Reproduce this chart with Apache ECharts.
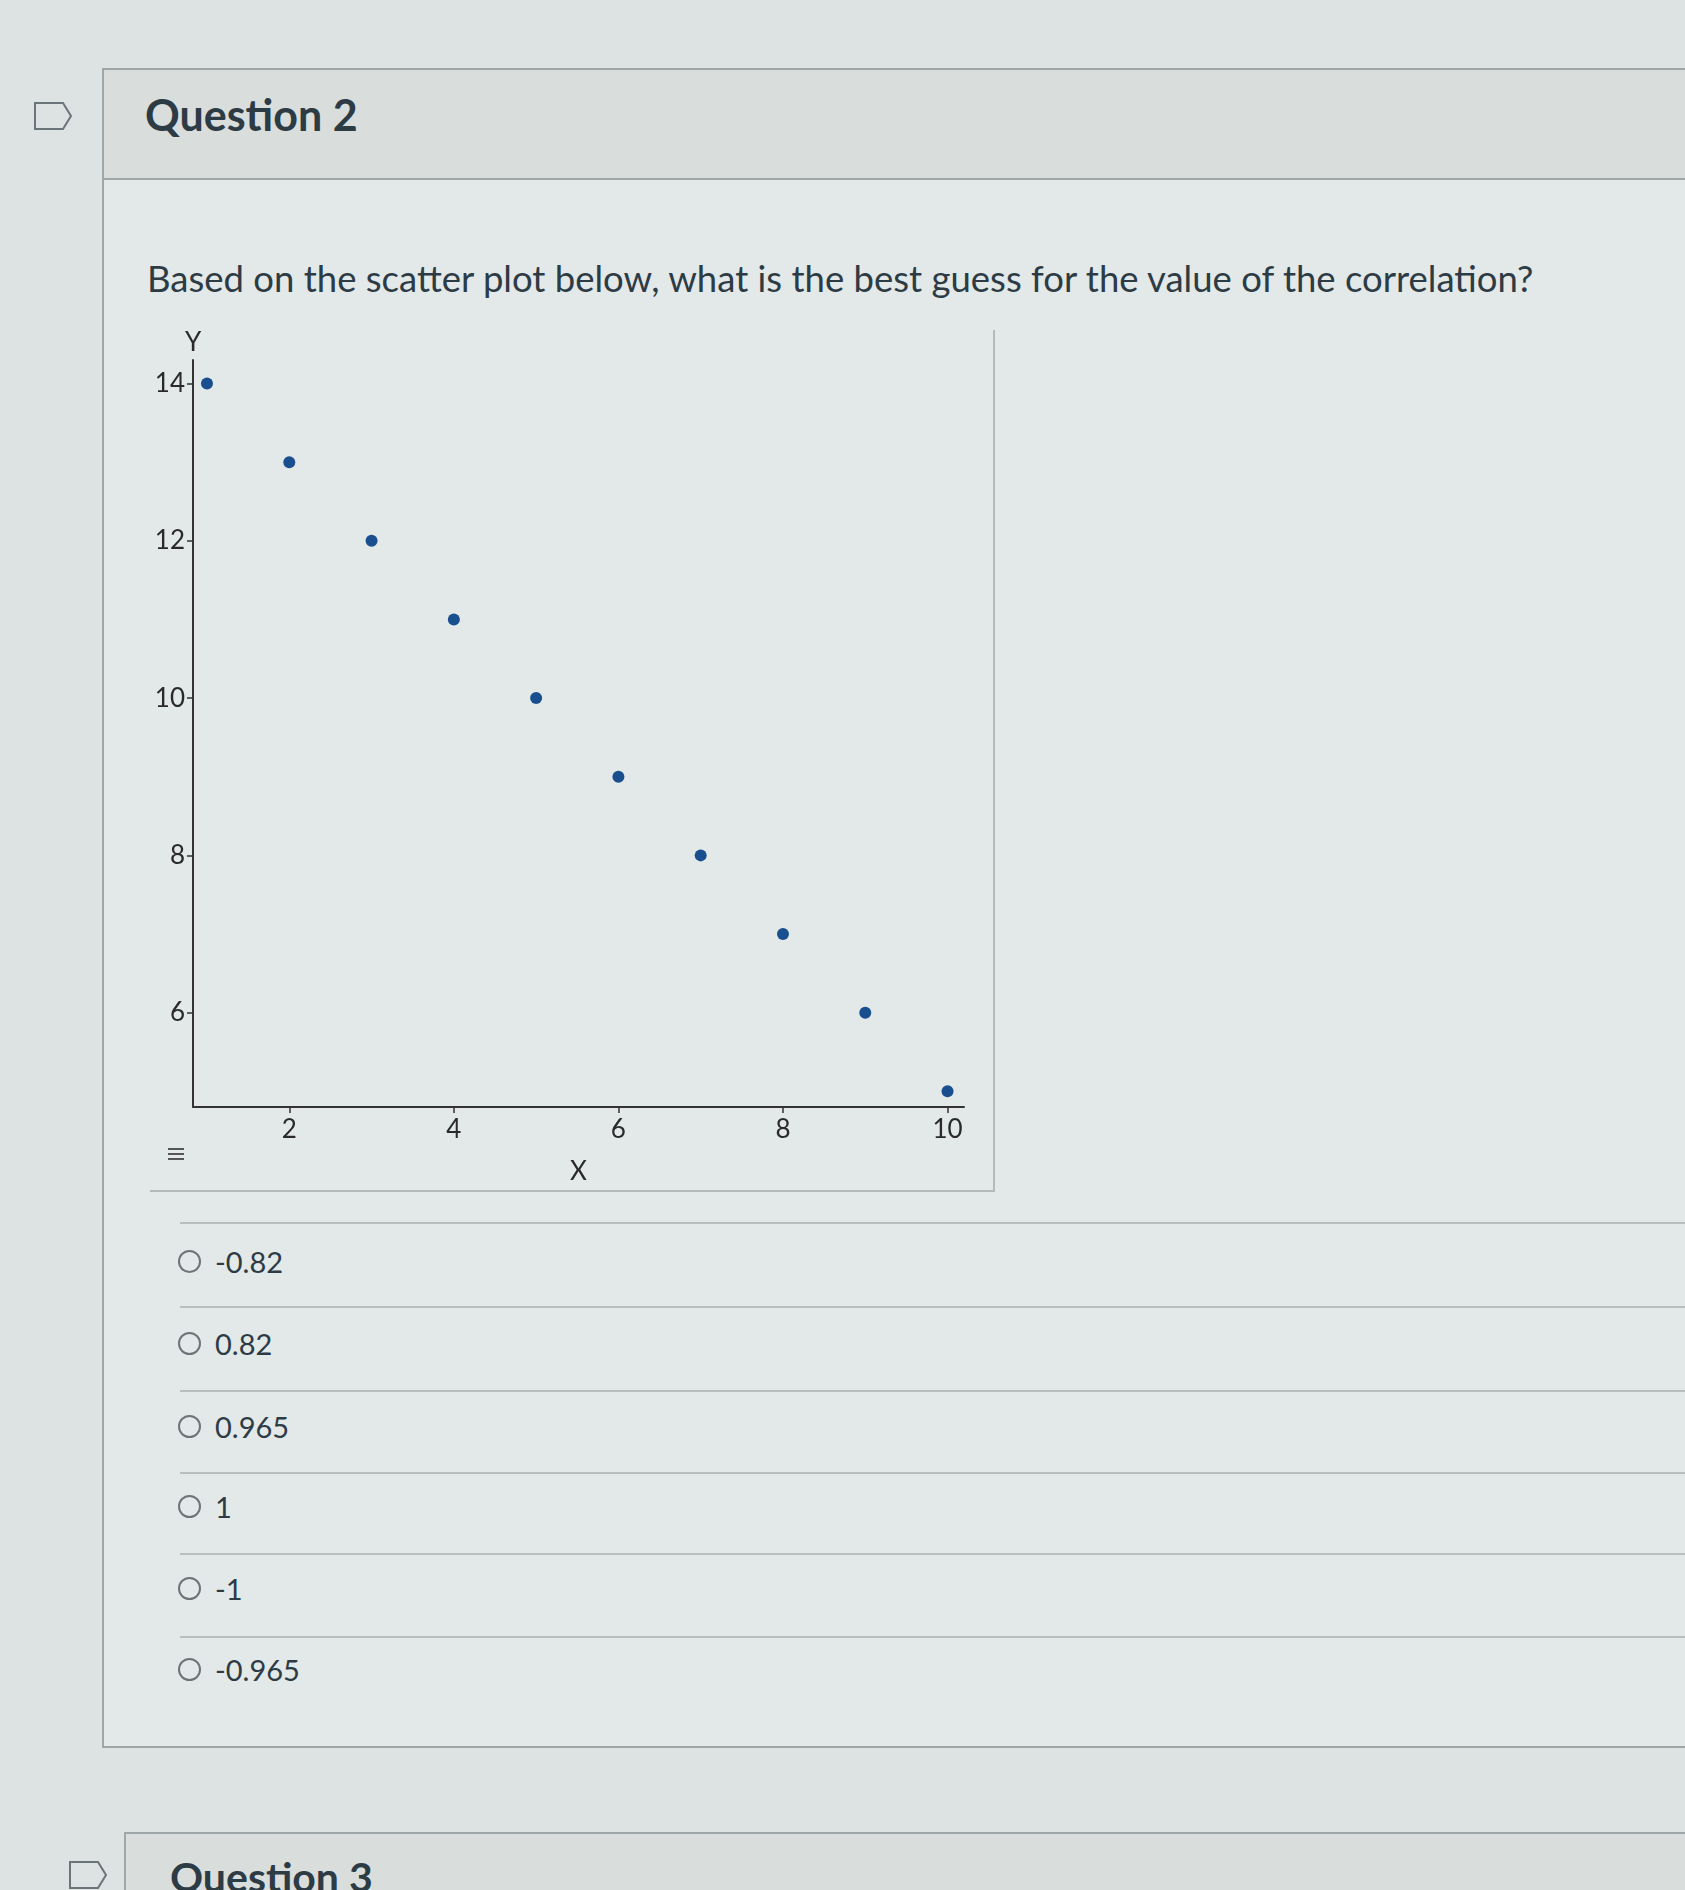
<!DOCTYPE html>
<html>
<head>
<meta charset="utf-8">
<script src="https://cdn.jsdelivr.net/npm/echarts@6/dist/echarts.min.js"></script>
<style>
  html, body { margin:0; padding:0; }
  body { width:1685px; height:1890px; background:#dde3e3; position:relative; overflow:hidden; font-family: Lato, "Open Sans", sans-serif; color:#2d3b45; }
  .abs { position:absolute; }
  #qbox { left:102px; top:68px; width:1640px; height:1680px; border:2px solid #9ea6a8; background:#e3e8e8; box-sizing:border-box; }
  #qhead { left:102px; top:68px; width:1640px; height:112px; border:2px solid #9ea6a8; background:#d9dedd; box-sizing:border-box; }
  #qtitle { left:145px; top:89px; font-size:43px; font-weight:700; color:#2d3b45; }
  .flag { width:40px; height:30px; }
  #qtext { left:147px; top:256px; font-size:36.5px; color:#2d3b45; white-space:nowrap; }
  #chartbox { left:150px; top:330px; width:845px; height:862px; border-right:2px solid #b3babb; border-bottom:2px solid #b3babb; box-sizing:border-box; }
  #chart { left:150px; top:330px; width:845px; height:860px; }
  #menu { left:168px; top:1148px; width:16px; }
  #menu div { height:2px; background:#555; margin-bottom:3px; }
  .opt { left:178px; font-size:29px; color:#2d3b45; display:flex; align-items:center; }
  .radio { width:23px; height:23px; border:2px solid #6b7478; border-radius:50%; margin-right:14px; box-sizing:border-box; }
  .sep { left:180px; width:1505px; height:2px; background:#b7bfc0; }
  #q3box { left:124px; top:1832px; width:1640px; height:100px; border:2px solid #9ea6a8; background:#d9dedd; box-sizing:border-box; }
  #q3title { left:170px; top:1852px; font-size:41px; font-weight:700; }
</style>
</head>
<body>
<div id="qbox" class="abs"></div>
<div id="qhead" class="abs"></div>
<svg class="abs flag" style="left:33px;top:101px" viewBox="0 0 40 30"><path d="M2 2 H30 L38 15 L30 28 H2 Z" fill="none" stroke="#6b7478" stroke-width="2"/></svg>
<div id="qtitle" class="abs">Question 2</div>
<div id="qtext" class="abs">Based on the scatter plot below, what is the best guess for the value of the correlation?</div>
<div id="chartbox" class="abs"></div>
<div id="chart" class="abs"></div>
<div id="menu" class="abs"><div></div><div></div><div></div></div>

<div class="sep abs" style="top:1222px"></div>
<div class="opt abs" style="top:1244px"><span class="radio"></span>-0.82</div>
<div class="sep abs" style="top:1306px"></div>
<div class="opt abs" style="top:1326px"><span class="radio"></span>0.82</div>
<div class="sep abs" style="top:1390px"></div>
<div class="opt abs" style="top:1409px"><span class="radio"></span>0.965</div>
<div class="sep abs" style="top:1472px"></div>
<div class="opt abs" style="top:1489px"><span class="radio"></span>1</div>
<div class="sep abs" style="top:1553px"></div>
<div class="opt abs" style="top:1571px"><span class="radio"></span>-1</div>
<div class="sep abs" style="top:1636px"></div>
<div class="opt abs" style="top:1652px"><span class="radio"></span>-0.965</div>

<div id="q3box" class="abs"></div>
<svg class="abs flag" style="left:68px;top:1860px" viewBox="0 0 40 30"><path d="M2 2 H30 L38 15 L30 28 H2 Z" fill="none" stroke="#6b7478" stroke-width="2"/></svg>
<div id="q3title" class="abs">Question 3</div>

<script>
// ---- data ----
const xValues = [1, 2, 3, 4, 5, 6, 7, 8, 9, 10];
const yValues = [14, 13, 12, 11, 10, 9, 8, 7, 6, 5];
const xTicks = [2, 4, 6, 8, 10];
const yTicks = [6, 8, 10, 12, 14];
const xName = 'X';
const yName = 'Y';

const points = xValues.map((x, i) => [x, yValues[i]]);
const chart = echarts.init(document.getElementById('chart'), null, { renderer: 'canvas' });
const labelStyle = { color: '#2a2a2a', fontFamily: 'Lato, sans-serif', fontSize: 26 };
chart.setOption({
  animation: false,
  grid: { left: 43, right: 31, top: 20, bottom: 78 },
  xAxis: {
    type: 'value', min: 0.83, max: 10.2,
    name: xName, nameLocation: 'middle', nameGap: 52,
    nameTextStyle: { color: '#2a2a2a', fontFamily: 'Lato, sans-serif', fontSize: 26 },
    axisLine: { show: true, lineStyle: { color: '#333', width: 2 } },
    axisTick: { show: true, length: 6, customValues: xTicks, lineStyle: { color: '#333', width: 1.5 } },
    axisLabel: { customValues: xTicks, margin: 10, ...labelStyle },
    splitLine: { show: false }
  },
  yAxis: {
    type: 'value', min: 4.8, max: 14.3,
    name: yName, nameLocation: 'end', nameGap: 4,
    nameTextStyle: { color: '#2a2a2a', fontFamily: 'Lato, sans-serif', fontSize: 26, align: 'center' },
    axisLine: { show: true, lineStyle: { color: '#333', width: 2 } },
    axisTick: { show: true, length: 6, customValues: yTicks, lineStyle: { color: '#333', width: 1.5 } },
    axisLabel: { customValues: yTicks, margin: 8, ...labelStyle },
    splitLine: { show: false }
  },
  series: [{
    type: 'scatter',
    data: points,
    symbol: 'circle',
    symbolSize: 12,
    itemStyle: { color: '#1a4f8f', opacity: 1 }
  }]
});
</script>
</body>
</html>
